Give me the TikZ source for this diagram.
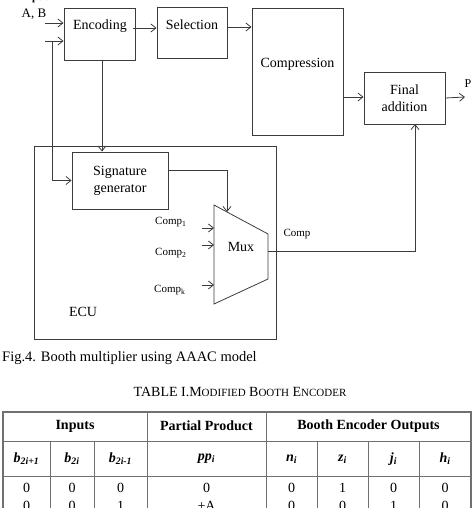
\documentclass[tikz,border=0pt]{standalone}
\usepackage{fontspec}
\setmainfont{Liberation Serif}
\usetikzlibrary{arrows.meta, positioning, calc}
\definecolor{LineGray}{HTML}{3C3C3C}
\definecolor{RuleGray}{HTML}{707070}

\begin{document}
\begin{tikzpicture}[x=1pt,y=-1pt,
    block/.style={draw=LineGray, line width=0.9pt, inner sep=0pt, align=center, font=\fontsize{14}{17}\selectfont},
    btext/.style={font=\fontsize{14}{17}\selectfont, inner sep=0pt},
    flow/.style={draw=LineGray, line width=0.8pt, -{Straight Barb[length=5pt,width=8pt]}},
    wire/.style={draw=LineGray, line width=0.8pt},
    small/.style={font=\fontsize{11}{13}\selectfont, inner sep=0pt},
    cell/.style={font=\fontsize{14}{16}\selectfont, inner sep=0pt},
    grid/.style={draw=RuleGray, line width=0.7pt}]
            \useasboundingbox (0,0) rectangle (474,508);
            \clip (0,0) rectangle (474,508);

            % Blocks
            \node[block, minimum width=71pt, minimum height=52pt] (enc) at (99.5,34) {};
            \node[btext] (enctext) at (100,26) {Encoding};
            \node[block, minimum width=70pt, minimum height=51pt] (sel) at (192,32.5) {};
            \node[btext] (seltext) at (192,25) {Selection};
            \node[block, minimum width=91pt, minimum height=127pt] (comp) at (297.5,71.5) {};
            \node[btext] (comptext) at (297.5,64) {Compression};
            \node[block, minimum width=81pt, minimum height=52pt] (fin) at (404.5,98) {Final\\addition};
            \node[block, minimum width=242pt, minimum height=193pt] (ecu) at (155,242.5) {};
            \node[block, minimum width=96pt, minimum height=57pt] (sig) at (120,180.5) {Signature\\generator};
            \node[btext] (ecutext) at (83,312) {ECU};

            % Mux
            \coordinate (mtl) at (214,205);
            \coordinate (mtr) at (268,234);
            \coordinate (mbr) at (268,279);
            \coordinate (mbl) at (214,304);
            \draw[wire] (mtl) -- (mtr) -- (mbr) -- (mbl) -- cycle;
            \node[btext] (mux) at (241,247) {Mux};

            % Inputs
            \node[font=\bfseries\fontsize{11}{13}\selectfont, inner sep=0pt] (inlabel) at (35,-2) {Input};
            \node[font=\fontsize{13}{15}\selectfont, inner sep=0pt] (ab) at (34,14) {A, B};
            \coordinate (in1) at (45,23);
            \coordinate (in2) at (45,41);
            \coordinate (split) at (52,41);
            \draw[flow] (in1) -- (in1 -| enc.west);
            \draw[flow] (in2) -- (in2 -| enc.west);
            \draw[flow] (split) |- (sig.west);

            % Main path
            \coordinate (encout) at (133,28);
            \coordinate (selout) at (227,27);
            \coordinate (compout) at (343,97);
            \draw[flow] (encout) -- (encout -| sel.west);
            \draw[flow] (selout) -- (selout -| comp.west);
            \draw[flow] (compout) -- (compout -| fin.west);
            \coordinate (pout) at (465,97);
            \draw[flow] (fin.east) -- (pout);
            \node[font=\fontsize{12}{14}\selectfont, inner sep=0pt] (p) at (468,84) {P};

            % ECU wiring
            \coordinate (encdown) at (102,60);
            \draw[flow] (encdown) -- (encdown |- sig.north);
            \coordinate (sigout) at (168,170);
            \coordinate (bend) at (227,170);
            \coordinate (muxin) at (227,212);
            \draw[flow] (sigout) -- (bend) -- (muxin);
            \foreach \y in {228, 245, 285}
              \draw[flow] (202,\y) -- (214,\y);
            \node[small, anchor=west] (c1) at (155,222) {Comp\textsubscript{1}};
            \node[small, anchor=west] (c2) at (155,253) {Comp\textsubscript{2}};
            \node[small, anchor=west] (ck) at (154,290) {Comp\textsubscript{k}};
            \coordinate (mout) at (268,251);
            \coordinate (finin) at (415,124);
            \draw[flow] (mout) -| (finin);
            \node[small] (comptag) at (297,234) {Comp};

            % Caption and table title
            \node[anchor=west, inner sep=0pt, font=\fontsize{14.5}{17}\selectfont] (cap) at (2,358) {Fig.4. Booth multiplier using AAAC model};
            \node[inner sep=0pt, font=\fontsize{14}{17}\selectfont] (ttl) at (240,392) {TABLE I.M{\fontsize{11}{13}\selectfont ODIFIED} B{\fontsize{11}{13}\selectfont OOTH} E{\fontsize{11}{13}\selectfont NCODER}};

            % Table
            \draw[grid, line width=1.4pt] (3,412) rectangle (471,530);
            \draw[grid] (3,441) -- (471,441);
            \draw[grid] (3,476) -- (471,476);
            \foreach \x in {147,266}
              \draw[grid] (\x,412) -- (\x,530);
            \foreach \x in {50,94,317,368,419}
              \draw[grid] (\x,441) -- (\x,530);

            \node[cell, font=\bfseries\fontsize{14}{16}\selectfont] (hin) at (75,426) {Inputs};
            \node[cell, font=\bfseries\fontsize{14}{16}\selectfont] (hpp) at (206.5,426) {Partial Product};
            \node[cell, font=\bfseries\fontsize{14}{16}\selectfont] (hout) at (368.5,426) {Booth Encoder Outputs};

            \foreach \x/\t [count=\i] in {26.5/b\textsubscript{2i+1}, 72/b\textsubscript{2i}, 120.5/b\textsubscript{2i-1}, 206.5/pp\textsubscript{i}, 291.5/n\textsubscript{i}, 342.5/z\textsubscript{i}, 393.5/j\textsubscript{i}, 445/h\textsubscript{i}}
              \node[cell, font=\bfseries\itshape\fontsize{14}{16}\selectfont] (s\i) at (\x,459) {\t};

            \foreach \x/\a/\b [count=\i] in {26.5/0/0, 72/0/0, 120.5/0/1, 206.5/0/+A, 291.5/0/0, 342.5/1/0, 393.5/0/1, 445/0/0}{
              \node[cell] (ra\i) at (\x,488) {\a};
              \node[cell] (rb\i) at (\x,506) {\b};
            }
\end{tikzpicture}
\end{document}
